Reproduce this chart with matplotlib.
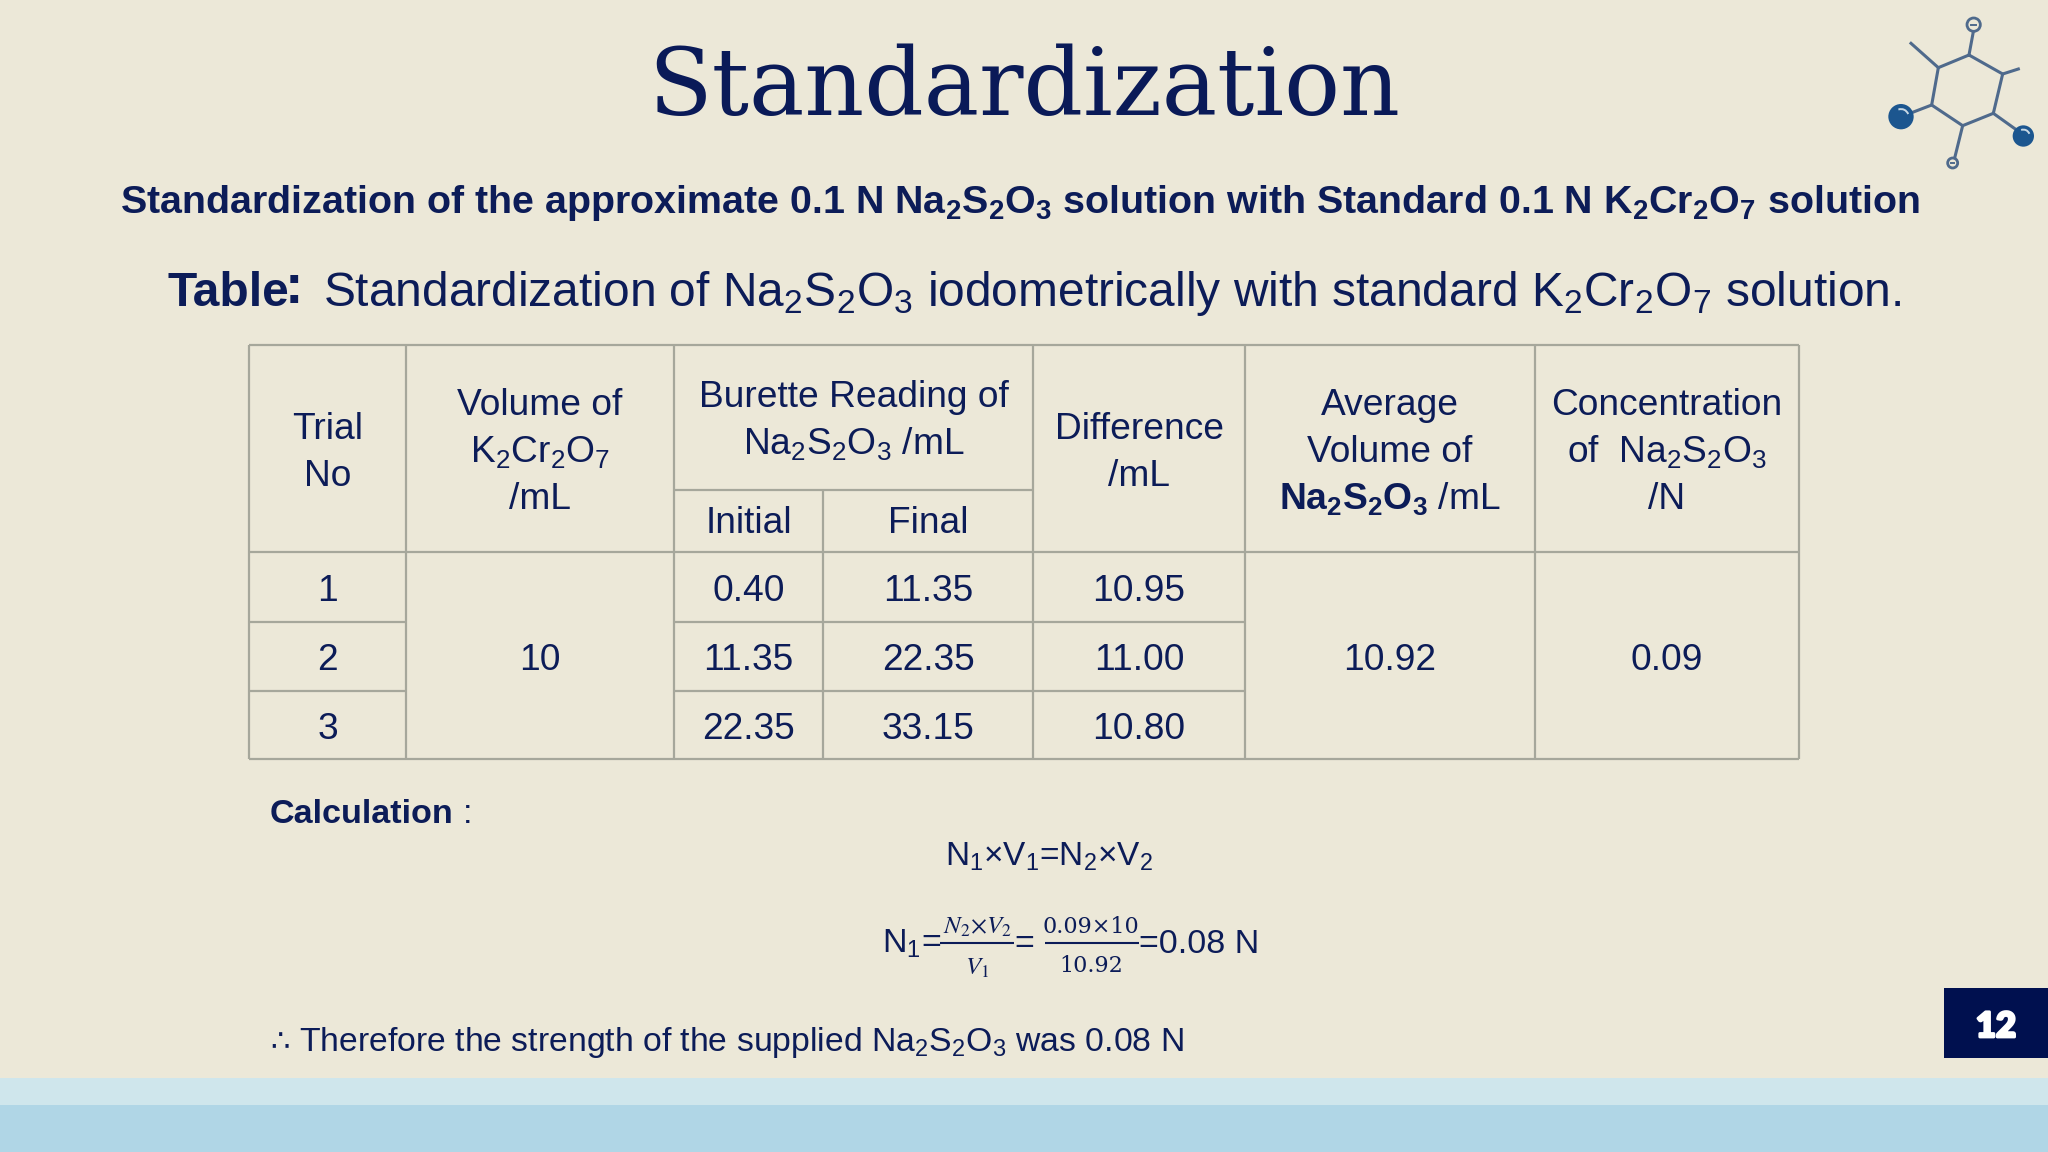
import matplotlib
matplotlib.use("Agg")
import matplotlib.pyplot as plt
import matplotlib.patheffects as pe
from matplotlib.patches import Rectangle, Circle, Arc

# Table values
TRIALS = ["1", "2", "3"]
INITIAL = ["0.40", "11.35", "22.35"]
FINAL = ["11.35", "22.35", "33.15"]
DIFFERENCE = ["10.95", "11.00", "10.80"]
VOLUME_K2CR2O7 = "10"
AVERAGE_VOLUME = "10.92"
CONCENTRATION = "0.09"

NA2S2O3 = r"Na$_{2}$S$_{2}$O$_{3}$"
K2CR2O7 = r"K$_{2}$Cr$_{2}$O$_{7}$"
NA2S2O3_BOLD = r"Na$_{\mathbf{2}}$S$_{\mathbf{2}}$O$_{\mathbf{3}}$"
K2CR2O7_BOLD = r"K$_{\mathbf{2}}$Cr$_{\mathbf{2}}$O$_{\mathbf{7}}$"

# Table grid, in pixels of the slide
COL_X = [249, 406, 674, 823, 1033, 1245, 1535, 1799]
ROW_Y = [345, 552, 622, 691, 759]
HEADER_SPLIT_Y = 490
ROW_BASELINES = [601, 670, 739]

BG = "#ECE8D8"
NAVY = "#0C1C58"
GRID = "#A6A79B"
BLUE = "#1C568F"
STEM = "#4F6A8C"

plt.rcParams["font.family"] = ["Liberation Sans", "DejaVu Sans"]
plt.rcParams["mathtext.fontset"] = "custom"
plt.rcParams["mathtext.rm"] = "Liberation Sans"
plt.rcParams["mathtext.it"] = "Liberation Sans:italic"
plt.rcParams["mathtext.bf"] = "Liberation Sans:bold"
plt.rcParams["mathtext.default"] = "rm"

fig = plt.figure(figsize=(20.48, 11.52), dpi=100, facecolor=BG)
ax = fig.add_axes([0, 0, 1, 1])
ax.set_xlim(0, 2048)
ax.set_ylim(1152, 0)
ax.axis("off")


def txt(x, y, s, size=26.7, ha="center", **kw):
	kw.setdefault("color", NAVY)
	return ax.text(x, y, s, fontsize=size, ha=ha, va="baseline", **kw)


def hline(x0, x1, y, color=GRID, lw=1.6):
	ax.plot([x0, x1], [y, y], color=color, lw=lw, solid_capstyle="butt")


def vline(x, y0, y1, color=GRID, lw=1.6):
	ax.plot([x, x], [y0, y1], color=color, lw=lw, solid_capstyle="butt")


def mid(a, b):
	return (a + b) / 2


# bottom bands and page number box
ax.add_patch(Rectangle((0, 1078), 2048, 27, color="#CFE6EC", lw=0))
ax.add_patch(Rectangle((0, 1105), 2048, 47, color="#B0D6E6", lw=0))
ax.add_patch(Rectangle((1944, 988), 104, 70, color="#00104F", lw=0))
page = txt(1996, 1037, "12", size=25, color="white", family="Lato", weight="black")
page.set_path_effects([pe.withStroke(linewidth=2, foreground="white")])

# headings
txt(1024, 115, "Standardization", size=67, family="DejaVu Serif", color="#0A1A58")
txt(120, 213, f"Standardization of the approximate 0.1 N {NA2S2O3_BOLD} solution with Standard 0.1 N {K2CR2O7_BOLD} solution",
    size=28.4, ha="left", weight="bold")
txt(167, 306, "Table", size=34.5, ha="left", weight="bold")
txt(285, 303, ":", size=40, ha="left", weight="bold")
txt(323, 306, f"Standardization of {NA2S2O3} iodometrically with standard {K2CR2O7} solution.", size=34.5, ha="left")

# table grid
for y in (ROW_Y[0], ROW_Y[1], ROW_Y[-1]):
	hline(COL_X[0], COL_X[-1], y)
for y in ROW_Y[2:4]:
	hline(COL_X[0], COL_X[1], y)
	hline(COL_X[2], COL_X[5], y)
hline(COL_X[2], COL_X[4], HEADER_SPLIT_Y)
for i, x in enumerate(COL_X):
	if i == 3:
		vline(x, HEADER_SPLIT_Y, ROW_Y[-1])
	else:
		vline(x, ROW_Y[0], ROW_Y[-1])

# header cells
c = mid(COL_X[0], COL_X[1])
txt(c, 439, "Trial")
txt(c, 486, "No")
c = mid(COL_X[1], COL_X[2])
txt(c, 415, "Volume of")
txt(c, 462, K2CR2O7)
txt(c, 509, "/mL")
c = mid(COL_X[2], COL_X[4])
txt(c, 407, "Burette Reading of")
txt(c, 454, f"{NA2S2O3} /mL")
txt(mid(COL_X[2], COL_X[3]), 533, "Initial")
txt(mid(COL_X[3], COL_X[4]), 533, "Final")
c = mid(COL_X[4], COL_X[5])
txt(c, 439, "Difference")
txt(c, 486, "/mL")
c = mid(COL_X[5], COL_X[6])
txt(c, 415, "Average")
txt(c, 462, "Volume of")
txt(c, 509, r"$\mathbf{Na_{2}S_{2}O_{3}}$ /mL")
c = mid(COL_X[6], COL_X[7])
txt(c, 415, "Concentration")
txt(c, 462, f"of  {NA2S2O3}")
txt(c, 509, "/N")

# body cells
for i, base in enumerate(ROW_BASELINES):
	txt(mid(COL_X[0], COL_X[1]), base, TRIALS[i])
	txt(mid(COL_X[2], COL_X[3]), base, INITIAL[i])
	txt(mid(COL_X[3], COL_X[4]), base, FINAL[i])
	txt(mid(COL_X[4], COL_X[5]), base, DIFFERENCE[i])
txt(mid(COL_X[1], COL_X[2]), ROW_BASELINES[1], VOLUME_K2CR2O7)
txt(mid(COL_X[5], COL_X[6]), ROW_BASELINES[1], AVERAGE_VOLUME)
txt(mid(COL_X[6], COL_X[7]), ROW_BASELINES[1], CONCENTRATION)

# calculation
txt(270, 823, "Calculation", size=24.6, ha="left", weight="bold")
txt(463, 823, ":", size=24.6, ha="left")
txt(945, 866, r"N$_{1}$×V$_{1}$=N$_{2}$×V$_{2}$", size=24, ha="left")
txt(882, 953, r"N$_{1}$=", size=24.5, ha="left")
txt(977, 933, r"$\mathit{N}_{2}{\times}\mathit{V}_{2}$", size=18, math_fontfamily="stix")
hline(940, 1014, 943, color=NAVY, lw=1.5)
txt(977, 974, r"$\mathit{V}_{1}$", size=18, math_fontfamily="stix")
txt(1014, 953, "=", size=24.5, ha="left")
txt(1091, 933, "0.09×10", size=16, family="DejaVu Serif")
hline(1045, 1139, 943, color=NAVY, lw=1.5)
txt(1091, 972, "10.92", size=16, family="DejaVu Serif")
txt(1139, 953, "=0.08 N", size=24.5, ha="left")
txt(270, 1051, "∴", size=22, ha="left", family="DejaVu Sans")
txt(299, 1051, f"Therefore the strength of the supplied {NA2S2O3} was 0.08 N", size=24.3, ha="left")

ox, oy = 1820, 0
ring = [(447, 165), (548, 222), (520, 340), (428, 377), (335, 315), (355, 203), (447, 165)]
ax.plot([ox + p[0] / 3 for p in ring], [oy + p[1] / 3 for p in ring], color=STEM, lw=2.2, solid_capstyle="round")
spokes = [((447, 165), (460, 95)), ((355, 203), (273, 130)), ((548, 222), (595, 207)),
          ((520, 340), (590, 390)), ((428, 377), (405, 470)), ((335, 315), (270, 340))]
for a, b in spokes:
	ax.plot([ox + a[0] / 3, ox + b[0] / 3], [oy + a[1] / 3, oy + b[1] / 3], color=STEM, lw=2.2)
for cx, cy, r in [(243, 350, 38), (610, 408, 32)]:
	ax.add_patch(Circle((ox + cx / 3, oy + cy / 3), r / 3, color=BLUE, lw=0, zorder=3))
	ax.add_patch(Arc((ox + cx / 3, oy + cy / 3), r * 1.2 / 3, r * 1.2 / 3, theta1=250, theta2=340,
	                 color="#C8D8E4", lw=1.4, zorder=4))
for cx, cy, r in [(461, 74, 20), (398, 489, 15)]:
	ax.add_patch(Circle((ox + cx / 3, oy + cy / 3), r / 3, fc=BG, ec=STEM, lw=2, zorder=3))
	ax.plot([ox + (cx - r / 3) / 3, ox + (cx + r / 3) / 3], [oy + cy / 3, oy + cy / 3], color=STEM, lw=1.4, zorder=4)

fig.savefig("out.png", dpi=100, facecolor=BG)
